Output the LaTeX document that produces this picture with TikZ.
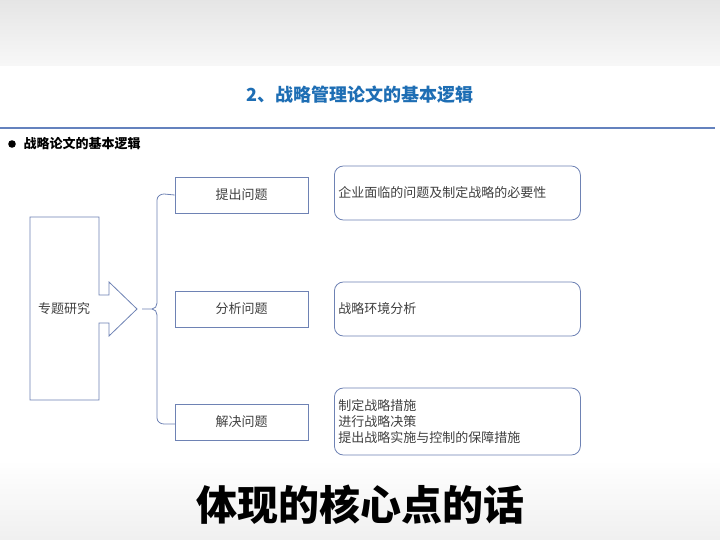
\documentclass[tikz,border=0pt]{standalone}
\usepackage{fontspec}
\newfontfamily\cjk{Noto Sans CJK SC}
\definecolor{lnc}{RGB}{110,130,180}
\begin{document}
\begin{tikzpicture}[x=1pt,y=-1pt,
  ln/.style={draw=lnc,line width=0.8pt},
  lbox/.style={ln,minimum width=133pt,minimum height=36pt,font=\cjk\fontsize{13}{16}\selectfont,text=black!75},
  rbox/.style={ln,rounded corners=9pt,minimum width=246pt,anchor=west,font=\cjk\fontsize{13}{16}\selectfont,text=black!75,align=left,text width=238pt}]
\useasboundingbox (0,0) rectangle (720,540);
\shade[top color=black!10,bottom color=black!3] (0,0) rectangle (720,66);
\fill[white] (0,66) rectangle (720,460);
\shade[top color=white,bottom color=black!6] (0,460) rectangle (720,540);
\node[font=\cjk\bfseries\fontsize{18}{22}\selectfont,text={rgb,255:red,30;green,110;blue,180}] (title) at (360,95) {2、战略管理论文的基本逻辑};
\draw[draw={rgb,255:red,100;green,130;blue,190},line width=1.2pt] (0,128) -- (715,128);
\fill (12,144) circle (3.8pt);
\node[anchor=west,font=\cjk\bfseries\fontsize{13}{16}\selectfont] (sub) at (20,144) {战略论文的基本逻辑};
\draw[ln] (30,217) -- (99,217) -- (99,295) -- (109,295) -- (109,282) -- (137,309) -- (109,336) -- (109,323) -- (99,323) -- (99,400) -- (30,400) -- cycle;
\node[font=\cjk\fontsize{13}{16}\selectfont,text=black!75] (zt) at (64,309) {专题研究};
\node[lbox] (a) at (241.5,195) {提出问题};
\node[lbox] (b) at (241.5,309) {分析问题};
\node[lbox] (c) at (241.5,422) {解决问题};
\coordinate (bt) at (142,309);
\draw[ln] (bt) -- (152,309) to[out=0,in=270] (157,303) -- (157,200) to[out=90,in=180] (164,194) -- (a.west);
\draw[ln] (157,315) -- (157,418) to[out=270,in=180] (164,424) -- (175,424);
\draw[ln] (152,309) to[out=0,in=90] (157,315);
\node[rbox,minimum height=54pt] (r1) at (334,193) {企业面临的问题及制定战略的必要性\\[12pt]};
\node[rbox,minimum height=54pt] (r2) at (334,309) {战略环境分析};
\node[rbox,minimum height=67pt] (r3) at (334,421.5) {制定战略措施\\进行战略决策\\提出战略实施与控制的保障措施};
\node[font=\cjk\bfseries\fontsize{41}{48}\selectfont,text=black] (cap) at (360,505) {体现的核心点的话};
\end{tikzpicture}
\end{document}
